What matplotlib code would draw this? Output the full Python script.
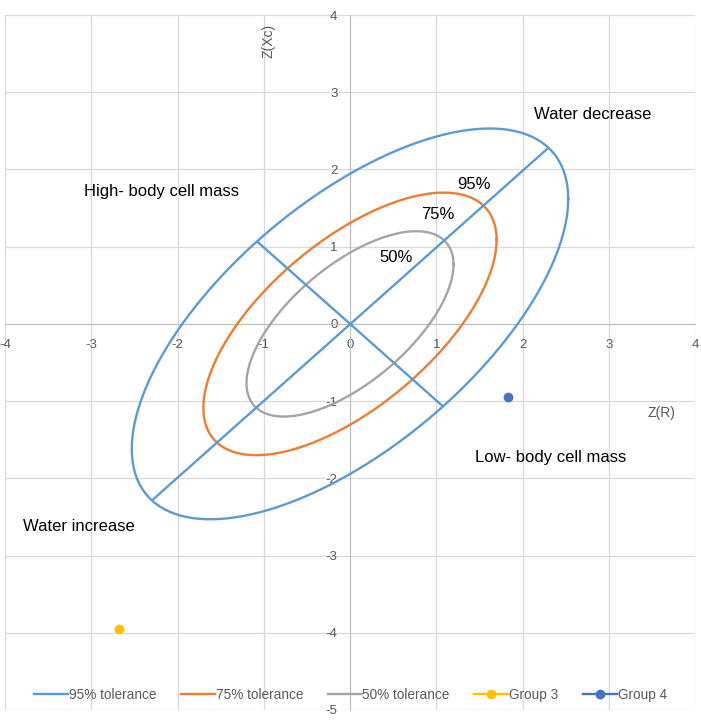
import numpy as np
import matplotlib
matplotlib.use("Agg")
import matplotlib.pyplot as plt
from matplotlib.lines import Line2D

plt.rcParams['font.family'] = ['Liberation Sans', 'DejaVu Sans']

# tolerance ellipses in Z-score space (correlation r, half-width along Z(R))
r_corr = 0.64
tol_names = ['95% tolerance', '75% tolerance', '50% tolerance']
tol_radius = [2.53, 1.70, 1.20]
tol_colors = ['#5B9BD5', '#ED7D31', '#A5A5A5']

# axes of the 95% ellipse
major_x = [-2.28, 2.28]
major_y = [-2.27, 2.26]
minor_x = [-1.07, 1.07]
minor_y = [1.06, -1.06]

# groups
group3_x = [-2.68]
group3_y = [-3.95]
group4_x = [1.83]
group4_y = [-0.95]

xticks = [-4, -3, -2, -1, 0, 1, 2, 3, 4]
yticks = [-5, -4, -3, -2, -1, 0, 1, 2, 3, 4]

fig = plt.figure(figsize=(7.01, 7.26), dpi=100)
ax = fig.add_axes([5/701, 16/726, 690/701, 695/726])

t = np.linspace(0, 2*np.pi, 300)
handles = []
for name, s, c in zip(tol_names, tol_radius, tol_colors):
    ex = s*np.cos(t)
    ey = s*(r_corr*np.cos(t) + np.sqrt(1 - r_corr**2)*np.sin(t))
    ax.plot(ex, ey, color=c, lw=1.7, zorder=3)
    handles.append(Line2D([], [], color=c, lw=1.7, label=name))

ax.plot(major_x, major_y, color=tol_colors[0], lw=1.7, zorder=3)
ax.plot(minor_x, minor_y, color=tol_colors[0], lw=1.7, zorder=3)

ax.plot(group3_x, group3_y, 'o', color='#FFC000', ms=6, zorder=4)
ax.plot(group4_x, group4_y, 'o', color='#4472C4', ms=6, zorder=4)
handles.append(Line2D([], [], color='#FFC000', lw=1.7, marker='o', ms=6, label='Group 3'))
handles.append(Line2D([], [], color='#4472C4', lw=1.7, marker='o', ms=6, label='Group 4'))

ax.set_xlim(-4, 4)
ax.set_ylim(-5, 4)
ax.set_xticks(xticks)
ax.set_yticks(yticks)
ax.set_xticklabels([str(v) for v in xticks])
ax.set_yticklabels([str(v) for v in yticks])
ax.grid(True, color='#D9D9D9', lw=0.9, zorder=0)
ax.set_axisbelow(True)

for side in ['top', 'right']:
    ax.spines[side].set_visible(False)
ax.spines['left'].set_position(('data', 0))
ax.spines['bottom'].set_position(('data', 0))
ax.spines['left'].set_color('#BFBFBF')
ax.spines['bottom'].set_color('#BFBFBF')
ax.tick_params(axis='x', length=0, pad=11, labelsize=9.5, labelcolor='#595959')
ax.tick_params(axis='y', length=0, pad=9, labelsize=9.5, labelcolor='#595959')

ax.text(-0.94, 3.66, 'Z(Xc)', rotation=90, ha='center', va='center', fontsize=10, color='#595959')
ax.text(3.61, -1.15, 'Z(R)', ha='center', va='center', fontsize=10, color='#595959')

ax.text(2.81, 2.71, 'Water decrease', ha='center', va='center', fontsize=12)
ax.text(1.44, 1.81, '95%', ha='center', va='center', fontsize=12)
ax.text(1.02, 1.42, '75%', ha='center', va='center', fontsize=12)
ax.text(0.53, 0.86, '50%', ha='center', va='center', fontsize=12)
ax.text(-2.18, 1.72, 'High- body cell mass', ha='center', va='center', fontsize=12)
ax.text(2.33, -1.73, 'Low- body cell mass', ha='center', va='center', fontsize=12)
ax.text(-3.14, -2.62, 'Water increase', ha='center', va='center', fontsize=12)

fig.legend(handles=handles, loc='center', bbox_to_anchor=(0.5, 31/726), ncol=5,
           frameon=False, fontsize=9.8, handlelength=2.5, columnspacing=1.8,
           handletextpad=0.05, labelcolor='#595959')

fig.savefig('out.png', dpi=100)
